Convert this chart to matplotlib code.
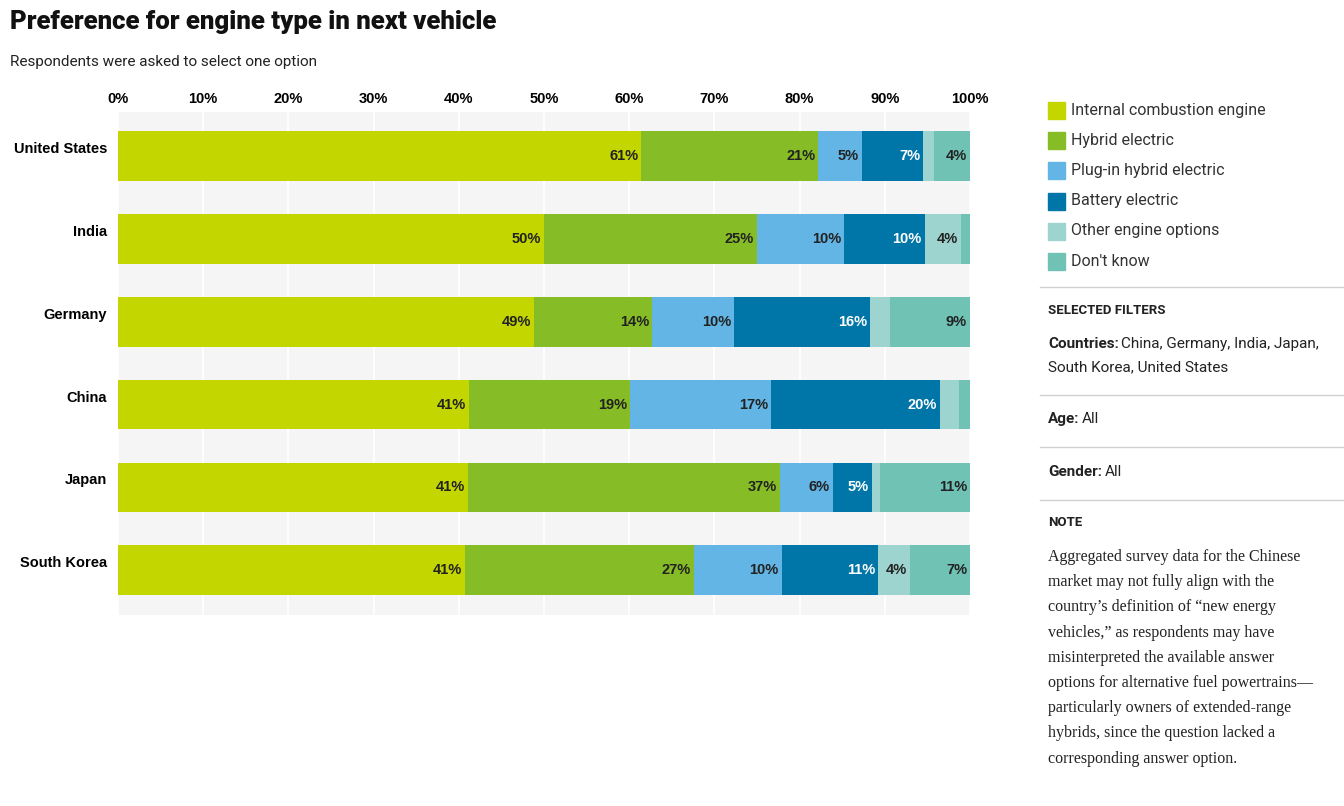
import matplotlib
matplotlib.use('Agg')
import matplotlib.pyplot as plt
from matplotlib.patches import Rectangle

countries = ['United States', 'India', 'Germany', 'China', 'Japan', 'South Korea']
series_names = ['Internal combustion engine', 'Hybrid electric', 'Plug-in hybrid electric',
                'Battery electric', 'Other engine options', "Don't know"]
ice = [61.4, 50.0, 48.8, 41.2, 41.1, 40.7]
hybrid = [20.8, 25.0, 13.9, 18.9, 36.6, 26.9]
phev = [5.1, 10.2, 9.6, 16.6, 6.2, 10.3]
bev = [7.2, 9.5, 16.0, 19.8, 4.6, 11.3]
other = [1.3, 4.2, 2.3, 2.2, 0.9, 3.7]
dont_know = [4.2, 1.1, 9.4, 1.3, 10.6, 7.1]
series = [ice, hybrid, phev, bev, other, dont_know]
colors = ['#c3d600', '#86bc25', '#62b5e5', '#0076a8', '#9dd4cf', '#6fc2b4']
text_colors = ['#222222', '#222222', '#222222', 'white', '#222222', '#222222']

fig = plt.figure(figsize=(13.44, 8.06), dpi=100)
W, H = 1344, 806
ax = fig.add_axes([118 / W, 1 - 615 / H, 852 / W, 503 / H])
ax.set_facecolor('#f5f5f5')

y = list(range(len(countries)))
left = [0] * len(countries)
for vals, col, tc in zip(series, colors, text_colors):
    ax.barh(y, vals, left=left, color=col, height=0.6, zorder=3)
    for i, v in enumerate(vals):
        if round(v) >= 4:
            ax.text(left[i] + v - 0.35, i, f'{round(v)}%', ha='right', va='center',
                    fontsize=10.5, fontweight='bold', family='Liberation Sans',
                    color=tc, zorder=4)
    left = [l + v for l, v in zip(left, vals)]

ax.set_xlim(0, 100)
ax.set_ylim(5.54, -0.53)
ax.set_xticks(range(0, 101, 10))
ax.set_xticklabels([f'{t}%' for t in range(0, 101, 10)], fontsize=10.5, fontweight='bold',
                   family='Liberation Sans')
ax.xaxis.tick_top()
ax.tick_params(axis='x', length=0, pad=4)
ax.set_yticks(y)
ax.set_yticklabels(countries, fontsize=10.5, fontweight='bold', family='Liberation Sans')
ax.tick_params(axis='y', length=0, pad=8)
for lbl in ax.get_yticklabels():
    lbl.set_va('bottom')
ax.grid(axis='x', color='white', linewidth=1.2, zorder=1)
for s in ax.spines.values():
    s.set_visible(False)

fig.text(10 / W, 1 - 22 / H, 'Preference for engine type in next vehicle', fontsize=18.5,
         fontweight='black', family='Roboto', va='center', color='#111111')
fig.text(10 / W, 1 - 62 / H, 'Respondents were asked to select one option', fontsize=11,
         family='Roboto', va='center', color='#222222')

# legend
for k, (name, col) in enumerate(zip(series_names, colors)):
    yy = 110 + k * 30.2
    fig.patches.append(Rectangle((1048 / W, 1 - (yy + 9) / H), 17 / W, 17 / H,
                                 color=col, transform=fig.transFigure))
    fig.text(1071 / W, 1 - yy / H, name, fontsize=11.5, family='Roboto', va='center',
             color='#333333')

def hline(yy):
    fig.add_artist(plt.Line2D([1040 / W, 1344 / W], [1 - yy / H, 1 - yy / H],
                              color='#d0d0d0', linewidth=1, transform=fig.transFigure))

def label_pair(yy, bold, rest, x2):
    fig.text(1048 / W, 1 - yy / H, bold, fontsize=11, fontweight='bold', family='Roboto',
             va='center', color='#222222')
    fig.text(x2 / W, 1 - yy / H, rest, fontsize=11, family='Roboto', va='center',
             color='#222222')

hline(287)
fig.text(1048 / W, 1 - 310 / H, 'SELECTED FILTERS', fontsize=9.5, fontweight='bold',
         family='Roboto', va='center', color='#222222')
label_pair(344, 'Countries:', 'China, Germany, India, Japan,', 1121)
fig.text(1048 / W, 1 - 367 / H, 'South Korea, United States', fontsize=11,
         family='Roboto', va='center', color='#222222')
hline(395)
label_pair(419, 'Age:', 'All', 1082)
hline(447)
label_pair(472, 'Gender:', 'All', 1105)
hline(500)
fig.text(1048 / W, 1 - 523 / H, 'NOTE', fontsize=9.5, fontweight='bold',
         family='Roboto', va='center', color='#222222')
note = ['Aggregated survey data for the Chinese',
        'market may not fully align with the',
        'country\u2019s definition of \u201cnew energy',
        'vehicles,\u201d as respondents may have',
        'misinterpreted the available answer',
        'options for alternative fuel powertrains\u2014',
        'particularly owners of extended-range',
        'hybrids, since the question lacked a',
        'corresponding answer option.']
for k, line in enumerate(note):
    fig.text(1048 / W, 1 - (557 + k * 25.2) / H, line, fontsize=11.5,
             family='Liberation Serif', va='center', color='#222222')

fig.savefig('out.png', dpi=100)
